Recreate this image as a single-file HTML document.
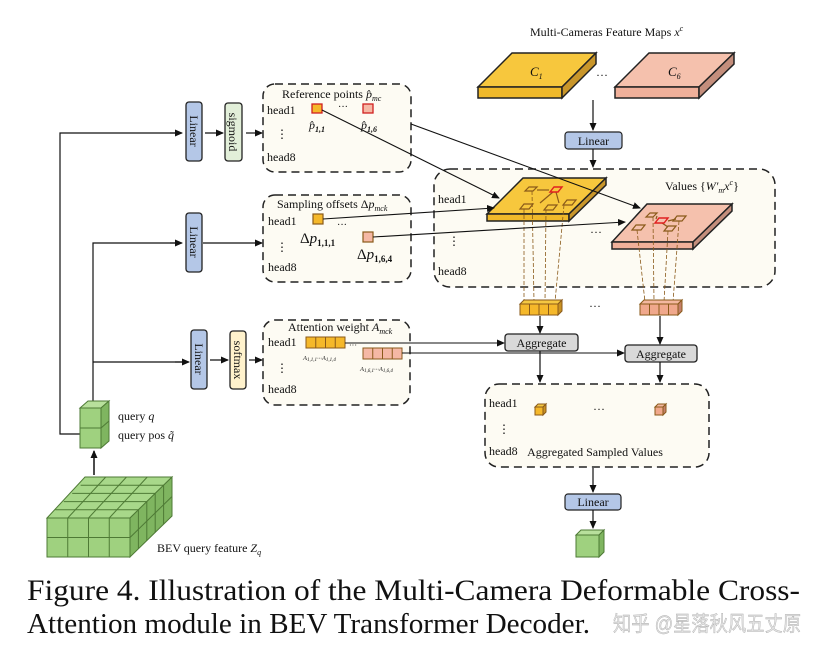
<!DOCTYPE html>
<html><head><meta charset="utf-8"><style>
html,body{margin:0;padding:0;background:#fff;}
svg{display:block;}
text{font-family:"Liberation Serif",serif;fill:#111;}
</style></head><body>
<svg width="823" height="654" viewBox="0 0 823 654" xmlns="http://www.w3.org/2000/svg">
<defs>
<marker id="a" markerWidth="8" markerHeight="8" refX="7" refY="4" orient="auto" markerUnits="userSpaceOnUse"><path d="M0,0.5 L8,4 L0,7.5 z" fill="#111"/></marker>
</defs>
<rect width="823" height="654" fill="#fff"/>

<text x="530" y="36" font-size="12">Multi-Cameras Feature Maps <tspan font-style="italic">x</tspan><tspan font-size="8" dy="-5" font-style="italic">c</tspan></text>

<g stroke="#222" stroke-width="1.5">
<polygon points="478,87 512,53 596,53 562,87" fill="#f7c73d"/>
<polygon points="478,87 562,87 562,98 478,98" fill="#f0b92a"/>
<polygon points="562,87 596,53 596,64 562,98" fill="#c9962a"/>
<polygon points="615,87 649,53 734,53 699,87" fill="#f5c1ad"/>
<polygon points="615,87 699,87 699,98 615,98" fill="#f0b09a"/>
<polygon points="699,87 734,53 734,64 699,98" fill="#c48e7c"/>
</g>
<text x="530" y="76" font-size="13" font-style="italic">C<tspan font-size="8" dy="3">1</tspan></text>
<text x="668" y="76" font-size="13" font-style="italic">C<tspan font-size="8" dy="3">6</tspan></text>
<text x="596" y="79" font-size="12">···</text>

<line x1="593" y1="100" x2="593" y2="130" stroke="#111" stroke-width="1.2" marker-end="url(#a)"/>
<rect x="565" y="132" width="57" height="17" rx="3" fill="#b4c7e7" stroke="#222" stroke-width="1.2"/>
<text x="593.5" y="145" font-size="12" text-anchor="middle">Linear</text>
<line x1="593" y1="149" x2="593" y2="167" stroke="#111" stroke-width="1.2" marker-end="url(#a)"/>

<rect x="434" y="169" width="341" height="118" rx="16" fill="#fdfbf3" stroke="#222" stroke-width="1.5" stroke-dasharray="8,5"/>
<text x="438" y="203" font-size="12">head1</text>
<text x="448" y="245" font-size="12">⋮</text>
<text x="438" y="275" font-size="12">head8</text>
<text x="665" y="190" font-size="12">Values {<tspan font-style="italic">W′</tspan><tspan font-size="8" dy="3" font-style="italic">m</tspan><tspan dy="-3" font-style="italic">x</tspan><tspan font-size="8" dy="-5" font-style="italic">c</tspan><tspan dy="5">}</tspan></text>
<text x="590" y="236" font-size="12">···</text>

<g stroke="#222" stroke-width="1.5">
<polygon points="487,214 523,178 606,178 569,214" fill="#f7c73d"/>
<polygon points="487,214 569,214 569,221 487,221" fill="#f0b92a"/>
<polygon points="569,214 606,178 606,185 569,221" fill="#c9962a"/>
<polygon points="612,242 647,204 732,204 693,242" fill="#f5c1ad"/>
<polygon points="612,242 693,242 693,249 612,249" fill="#f0b09a"/>
<polygon points="693,242 732,204 732,211 693,249" fill="#c48e7c"/>
</g>
<g fill="none" stroke="#8a5a1a" stroke-width="1.2">
<polygon points="525,191 529,187 537,187 533,191"/>
<polygon points="520,209 524,204 533,204 529,209"/>
<polygon points="544,210 548,205 557,205 553,210"/>
<polygon points="563,205 567,200 576,200 572,205"/>
<polygon points="646,217 650,213 657,213 653,217"/>
<polygon points="632,230 636,225 645,225 641,230"/>
<polygon points="664,231 668,226 676,226 672,231"/>
<polygon points="673,221 677,216 686,216 682,221"/>
<line x1="537" y1="190" x2="549" y2="190"/><line x1="553" y1="192" x2="540" y2="203"/><line x1="556" y1="192" x2="559" y2="203"/>
<line x1="657" y1="216" x2="656" y2="219"/><line x1="668" y1="221" x2="676" y2="219"/><line x1="662" y1="223" x2="668" y2="227"/>
</g>
<polygon points="550,192 554,187 562,187 558,192" fill="none" stroke="#e02020" stroke-width="1.4"/>
<polygon points="655,223 659,218 668,218 664,223" fill="none" stroke="#e02020" stroke-width="1.4"/>
<g stroke="#8a5a1a" stroke-width="0.8" stroke-dasharray="4,2">
<line x1="524" y1="209" x2="524" y2="302"/><line x1="532" y1="191" x2="534" y2="302"/>
<line x1="546" y1="210" x2="545" y2="302"/><line x1="564" y1="205" x2="555" y2="302"/>
<line x1="637" y1="230" x2="645" y2="302"/><line x1="653" y1="217" x2="654" y2="302"/>
<line x1="668" y1="231" x2="664" y2="302"/><line x1="679" y1="221" x2="673" y2="302"/>
</g>

<g stroke="#8a5a1a" stroke-width="1">
<polygon points="520,304 524,300 562,300 558,304" fill="#f5c842"/>
<rect x="520" y="304" width="38" height="11" fill="#f5b82a"/>
<line x1="529.5" y1="304" x2="529.5" y2="315"/><line x1="539" y1="304" x2="539" y2="315"/><line x1="548.5" y1="304" x2="548.5" y2="315"/>
<polygon points="558,304 562,300 562,311 558,315" fill="#c99222"/>
<polygon points="640,304 644,300 682,300 678,304" fill="#f4b8a0"/>
<rect x="640" y="304" width="38" height="11" fill="#f0a88c"/>
<line x1="649.5" y1="304" x2="649.5" y2="315"/><line x1="659" y1="304" x2="659" y2="315"/><line x1="668.5" y1="304" x2="668.5" y2="315"/>
<polygon points="678,304 682,300 682,311 678,315" fill="#c4806a"/>
</g>
<text x="589" y="310" font-size="12">···</text>

<line x1="540" y1="316" x2="540" y2="333" stroke="#111" stroke-width="1.2" marker-end="url(#a)"/>
<line x1="660" y1="316" x2="660" y2="344" stroke="#111" stroke-width="1.2" marker-end="url(#a)"/>
<rect x="505" y="334" width="73" height="17" rx="3" fill="#d9d9d9" stroke="#222" stroke-width="1.3"/>
<text x="541.5" y="347" font-size="12" text-anchor="middle">Aggregate</text>
<rect x="625" y="345" width="72" height="17" rx="3" fill="#d9d9d9" stroke="#222" stroke-width="1.3"/>
<text x="661" y="358" font-size="12" text-anchor="middle">Aggregate</text>
<line x1="540" y1="351" x2="540" y2="382" stroke="#111" stroke-width="1.2" marker-end="url(#a)"/>
<line x1="660" y1="362" x2="660" y2="382" stroke="#111" stroke-width="1.2" marker-end="url(#a)"/>

<rect x="485" y="384" width="224" height="83" rx="14" fill="#fdfbf3" stroke="#222" stroke-width="1.5" stroke-dasharray="8,5"/>
<text x="489" y="407" font-size="12">head1</text>
<text x="498" y="433" font-size="12">⋮</text>
<text x="489" y="455" font-size="12">head8</text>
<text x="595" y="456" font-size="12" text-anchor="middle">Aggregated Sampled Values</text>
<text x="593" y="413" font-size="12">···</text>
<g stroke="#8a5a1a" stroke-width="1">
<rect x="535" y="407" width="8" height="8" fill="#f5b82a"/><polygon points="535,407 538,404 546,404 543,407" fill="#f5c842"/><polygon points="543,407 546,404 546,412 543,415" fill="#c99222"/>
<rect x="655" y="407" width="8" height="8" fill="#f0a88c"/><polygon points="655,407 658,404 666,404 663,407" fill="#f4b8a0"/><polygon points="663,407 666,404 666,412 663,415" fill="#c4806a"/>
</g>
<line x1="593" y1="468" x2="593" y2="492" stroke="#111" stroke-width="1.2" marker-end="url(#a)"/>
<rect x="565" y="494" width="56" height="16" rx="3" fill="#b4c7e7" stroke="#222" stroke-width="1.2"/>
<text x="593" y="506" font-size="12" text-anchor="middle">Linear</text>
<line x1="593" y1="510" x2="593" y2="528" stroke="#111" stroke-width="1.2" marker-end="url(#a)"/>
<g stroke="#4e7a35" stroke-width="1">
<rect x="576" y="535" width="23" height="22" fill="#9fd17f"/>
<polygon points="576,535 581,530 604,530 599,535" fill="#b8e09c"/>
<polygon points="599,535 604,530 604,552 599,557" fill="#7fb560"/>
</g>

<g stroke="#111" stroke-width="1.2" fill="none">
<polyline points="80,434 60,434 60,133 180,133"/>
<polyline points="93,402 93,243 180,243"/>
<line x1="93" y1="362" x2="187" y2="362"/>
</g>
<line x1="170" y1="133" x2="182" y2="133" stroke="#111" stroke-width="1.2" marker-end="url(#a)"/>
<line x1="170" y1="243" x2="182" y2="243" stroke="#111" stroke-width="1.2" marker-end="url(#a)"/>
<line x1="175" y1="362" x2="189" y2="362" stroke="#111" stroke-width="1.2" marker-end="url(#a)"/>
<line x1="205" y1="133" x2="223" y2="133" stroke="#111" stroke-width="1.2" marker-end="url(#a)"/>
<line x1="246" y1="133" x2="262" y2="133" stroke="#111" stroke-width="1.2" marker-end="url(#a)"/>
<line x1="203" y1="243" x2="262" y2="243" stroke="#111" stroke-width="1.2" marker-end="url(#a)"/>
<line x1="210" y1="360" x2="228" y2="360" stroke="#111" stroke-width="1.2" marker-end="url(#a)"/>
<line x1="249" y1="360" x2="262" y2="360" stroke="#111" stroke-width="1.2" marker-end="url(#a)"/>

<rect x="186" y="102" width="16" height="59" rx="3" fill="#b4c7e7" stroke="#222" stroke-width="1.3"/>
<text transform="translate(190,131) rotate(90)" font-size="12" text-anchor="middle">Linear</text>
<rect x="225" y="103" width="17" height="58" rx="3" fill="#e2efd9" stroke="#222" stroke-width="1.3"/>
<text transform="translate(229,132) rotate(90)" font-size="12" text-anchor="middle">sigmoid</text>
<rect x="186" y="213" width="16" height="59" rx="3" fill="#b4c7e7" stroke="#222" stroke-width="1.3"/>
<text transform="translate(190,242) rotate(90)" font-size="12" text-anchor="middle">Linear</text>
<rect x="191" y="330" width="16" height="59" rx="3" fill="#b4c7e7" stroke="#222" stroke-width="1.3"/>
<text transform="translate(195,359) rotate(90)" font-size="12" text-anchor="middle">Linear</text>
<rect x="230" y="331" width="16" height="58" rx="3" fill="#fff2cc" stroke="#222" stroke-width="1.3"/>
<text transform="translate(234,360) rotate(90)" font-size="12" text-anchor="middle">softmax</text>

<rect x="263" y="84" width="148" height="88" rx="12" fill="#fdfbf3" stroke="#222" stroke-width="1.5" stroke-dasharray="8,5"/>
<text x="282" y="98" font-size="12">Reference points <tspan font-style="italic">p̂</tspan><tspan font-size="8" dy="3" font-style="italic">mc</tspan></text>
<text x="267" y="114" font-size="12">head1</text>
<text x="276" y="138" font-size="12">⋮</text>
<text x="267" y="161" font-size="12">head8</text>
<text x="338" y="110" font-size="10">···</text>
<rect x="312" y="104" width="10" height="9" fill="#f5b82a" stroke="#d02020" stroke-width="1.3"/>
<rect x="363" y="104" width="10" height="9" fill="#f5b8a5" stroke="#d02020" stroke-width="1.3"/>
<text x="309" y="129" font-size="12" font-style="italic">p̂<tspan font-size="8" dy="3" font-weight="bold">1,1</tspan></text>
<text x="361" y="129" font-size="12" font-style="italic">p̂<tspan font-size="8" dy="3" font-weight="bold">1,6</tspan></text>

<rect x="263" y="195" width="148" height="87" rx="12" fill="#fdfbf3" stroke="#222" stroke-width="1.5" stroke-dasharray="8,5"/>
<text x="277" y="208" font-size="12">Sampling offsets Δ<tspan font-style="italic">p</tspan><tspan font-size="8" dy="3" font-style="italic">mck</tspan></text>
<text x="268" y="225" font-size="12">head1</text>
<text x="276" y="251" font-size="12">⋮</text>
<text x="268" y="271" font-size="12">head8</text>
<text x="337" y="228" font-size="10">···</text>
<rect x="313" y="214" width="10" height="10" fill="#f5b82a" stroke="#8a5a1a" stroke-width="1.2"/>
<rect x="363" y="232" width="10" height="10" fill="#f5b8a5" stroke="#8a5a1a" stroke-width="1.2"/>
<text x="300" y="243" font-size="15">Δ<tspan font-style="italic">p</tspan><tspan font-size="9" dy="3" font-weight="bold">1,1,1</tspan></text>
<text x="357" y="259" font-size="15">Δ<tspan font-style="italic">p</tspan><tspan font-size="9" dy="3" font-weight="bold">1,6,4</tspan></text>

<rect x="263" y="320" width="147" height="85" rx="12" fill="#fdfbf3" stroke="#222" stroke-width="1.5" stroke-dasharray="8,5"/>
<text x="288" y="331" font-size="12">Attention weight <tspan font-style="italic">A</tspan><tspan font-size="8" dy="3" font-style="italic">mck</tspan></text>
<text x="268" y="346" font-size="12">head1</text>
<text x="276" y="372" font-size="12">⋮</text>
<text x="268" y="393" font-size="12">head8</text>
<g stroke="#8a5a1a" stroke-width="1">
<rect x="306" y="337" width="39" height="11" fill="#f5b82a"/>
<line x1="315.75" y1="337" x2="315.75" y2="348"/><line x1="325.5" y1="337" x2="325.5" y2="348"/><line x1="335.25" y1="337" x2="335.25" y2="348"/>
<rect x="363" y="348" width="39" height="11" fill="#f5b8a5"/>
<line x1="372.75" y1="348" x2="372.75" y2="359"/><line x1="382.5" y1="348" x2="382.5" y2="359"/><line x1="392.25" y1="348" x2="392.25" y2="359"/>
</g>
<text x="303" y="360" font-size="6.5" font-style="italic">A<tspan font-size="5" dy="1">1,1,1</tspan><tspan dy="-1">···A</tspan><tspan font-size="5" dy="1">1,1,4</tspan></text>
<text x="349" y="348" font-size="8">···</text>
<text x="360" y="371" font-size="6.5" font-style="italic">A<tspan font-size="5" dy="1">1,6,1</tspan><tspan dy="-1">···A</tspan><tspan font-size="5" dy="1">1,6,4</tspan></text>

<line x1="322" y1="110" x2="499" y2="198" stroke="#111" stroke-width="1.1" marker-end="url(#a)"/>
<line x1="411" y1="124" x2="640" y2="208" stroke="#111" stroke-width="1.1" marker-end="url(#a)"/>
<line x1="323" y1="219" x2="494" y2="208" stroke="#111" stroke-width="1.1" marker-end="url(#a)"/>
<line x1="373" y1="237" x2="625" y2="222" stroke="#111" stroke-width="1.1" marker-end="url(#a)"/>
<line x1="345" y1="343" x2="504" y2="343" stroke="#111" stroke-width="1.1" marker-end="url(#a)"/>
<line x1="402" y1="353" x2="624" y2="353" stroke="#111" stroke-width="1.1" marker-end="url(#a)"/>

<g stroke="#4e7a35" stroke-width="1">
<rect x="80" y="408" width="21" height="20" fill="#9fd17f"/>
<rect x="80" y="428" width="21" height="20" fill="#9fd17f"/>
<polygon points="80,408 88,401 109,401 101,408" fill="#b8e09c"/>
<polygon points="101,408 109,401 109,441 101,448" fill="#7fb560"/>
<line x1="101" y1="428" x2="109" y2="421"/>
</g>
<text x="118" y="420" font-size="12">query <tspan font-style="italic">q</tspan></text>
<text x="118" y="439" font-size="12">query pos <tspan font-style="italic">q̃</tspan></text>
<line x1="94" y1="475" x2="94" y2="451" stroke="#111" stroke-width="1.5" marker-end="url(#a)"/>

<g stroke="#4e7a35" stroke-width="1">
<polygon points="47,518 85,477 172,477 130,518" fill="#a8d88a"/>
<polygon points="130,518 172,477 172,516 130,557" fill="#7fb560"/>
<rect x="47" y="518" width="83" height="39" fill="#9fd17f"/>
<line x1="47" y1="537.5" x2="130" y2="537.5"/>
<line x1="67.75" y1="518" x2="67.75" y2="557"/><line x1="88.5" y1="518" x2="88.5" y2="557"/><line x1="109.25" y1="518" x2="109.25" y2="557"/>
<line x1="130" y1="537.5" x2="172" y2="496.5"/>
<line x1="55.4" y1="509.8" x2="138.4" y2="509.8"/><line x1="63.8" y1="501.6" x2="146.8" y2="501.6"/>
<line x1="72.2" y1="493.4" x2="155.2" y2="493.4"/><line x1="80.6" y1="485.2" x2="163.6" y2="485.2"/>
<line x1="67.75" y1="518" x2="105.75" y2="477"/><line x1="88.5" y1="518" x2="126.5" y2="477"/><line x1="109.25" y1="518" x2="147.25" y2="477"/>
<line x1="138.4" y1="509.8" x2="138.4" y2="548.8"/><line x1="146.8" y1="501.6" x2="146.8" y2="540.6"/>
<line x1="155.2" y1="493.4" x2="155.2" y2="532.4"/><line x1="163.6" y1="485.2" x2="163.6" y2="524.2"/>
</g>
<text x="157" y="552" font-size="12">BEV query feature <tspan font-style="italic">Z</tspan><tspan font-size="8" dy="3" font-style="italic">q</tspan></text>

<text x="27" y="600" font-size="30" textLength="773" lengthAdjust="spacingAndGlyphs">Figure 4. Illustration of the Multi-Camera Deformable Cross-</text>
<text x="27" y="633" font-size="29" textLength="563" lengthAdjust="spacingAndGlyphs">Attention module in BEV Transformer Decoder.</text>
<text x="613" y="631" font-size="21" style="font-family:'Liberation Sans','Noto Sans CJK SC',sans-serif;fill:#e4e4e4;stroke:#aaa;stroke-width:0.4" textLength="188" lengthAdjust="spacingAndGlyphs">知乎 @星落秋风五丈原</text>
</svg>
</body></html>
